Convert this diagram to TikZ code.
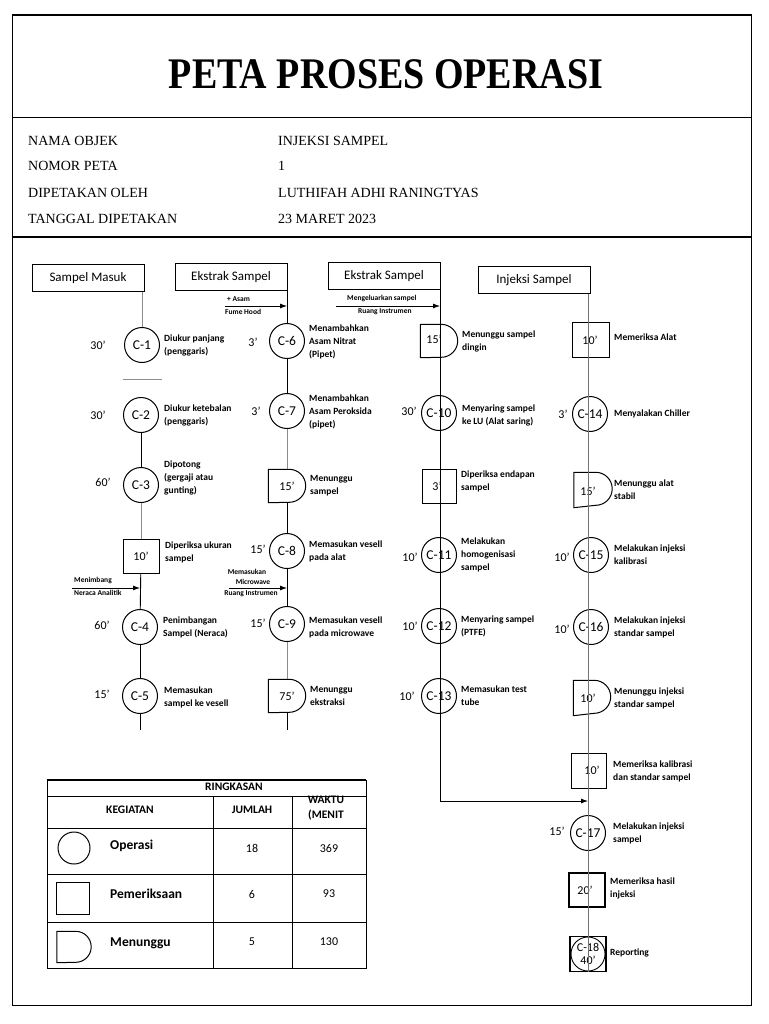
\documentclass[tikz,border=0pt]{standalone}
\usepackage{fontspec}
\setmainfont{Carlito}
\newfontfamily\tnr{Liberation Serif}
\usetikzlibrary{arrows.meta}
\newcommand\fsz[2]{\fontsize{#1}{#2}\selectfont}
\newcommand\dshape[1]{\draw[line width=1pt] (#1.north west) -- ([xshift=-16.5pt]#1.north east) arc[start angle=90,end angle=-90,radius=16.5pt] -- (#1.south west) -- cycle;}
\tikzset{
 hdr/.style={draw, line width=0.9pt, minimum width=112pt, minimum height=27pt, inner sep=0, font=\fsz{13}{15}},
 opn/.style={circle, draw, line width=1pt, minimum size=35pt, inner sep=0, font=\fsz{13.5}{15}},
 insp/.style={draw, line width=1pt, minimum width=36pt, minimum height=34pt, inner sep=0, font=\fsz{12}{14}},
 wt/.style={minimum width=37pt, minimum height=33pt, inner sep=0, font=\fsz{12}{14}},
 desc/.style={anchor=west, align=left, font=\bfseries\fsz{9.5}{13}, inner sep=0},
 tm/.style={font=\fsz{12}{14}, inner sep=0},
 tiny/.style={font=\bfseries\fsz{7.5}{8}, inner sep=0},
 conn/.style={draw=black, line width=0.9pt},
 gconn/.style={draw=black!45, line width=0.9pt},
 arr/.style={-{Latex[length=7pt,width=5pt]}, line width=0.8pt},
 info/.style={anchor=west, inner sep=0, font=\tnr\fsz{14}{16}},
 tcell/.style={inner sep=0, font=\fsz{12}{14}},
 thead/.style={inner sep=0, font=\bfseries\fsz{11.5}{15}, align=center},
 kcell/.style={anchor=west, inner sep=0, font=\bfseries\fsz{13.5}{15}},
}
\begin{document}
\begin{tikzpicture}[x=1pt,y=-1pt]
\useasboundingbox (0,0) rectangle (768,1024);
% frame
\draw[line width=1pt] (12,15) rectangle (751,1005);
\draw[line width=2pt] (12,15) -- (751,15);
\draw[line width=1pt] (12,118) -- (751,118);
\draw[line width=1.2pt] (12,237) -- (751,237);
\node[inner sep=0, font=\tnr\bfseries\fsz{38}{40}] (title) at (386,74) {\scalebox{1}[1.15]{PETA PROSES OPERASI}};
\node[info] (l1) at (28,141) {NAMA OBJEK};
\node[info] (l2) at (28,166) {NOMOR PETA};
\node[info] (l3) at (28,193) {DIPETAKAN OLEH};
\node[info] (l4) at (28,219) {TANGGAL DIPETAKAN};
\node[info] (v1) at (278,141) {INJEKSI SAMPEL};
\node[info] (v2) at (278,166) {1};
\node[info] (v3) at (278,193) {LUTHIFAH ADHI RANINGTYAS};
\node[info] (v4) at (278,219) {23 MARET 2023};

% headers
\node[hdr] (h1) at (88,278) {Sampel Masuk};
\node[hdr] (h2) at (231,277) {Ekstrak Sampel};
\node[hdr] (h3) at (384,276) {Ekstrak Sampel};
\node[hdr] (h4) at (534,280) {Injeksi Sampel};

% ---------- column 1
\node[opn] (c1) at (142,345) {C-1};
\node[tm] (t1) at (98,345) {30’};
\node[desc] (d1) at (164,345) {Diukur panjang\\(penggaris)};
\draw[black!45, line width=1pt] (123,379) -- (162,379);
\node[opn] (c2) at (141,415) {C-2};
\node[tm] (t2) at (98,415) {30’};
\node[desc] (d2) at (164,415) {Diukur ketebalan\\(penggaris)};
\node[opn] (c3) at (141,485) {C-3};
\node[tm] (t3) at (103,482) {60’};
\node[desc] (d3) at (164,478) {Dipotong\\(gergaji atau\\gunting)};
\node[insp] (s1) at (141,556) {10’};
\node[desc] (d4) at (165,552) {Diperiksa ukuran\\sampel};
\node[opn] (c4) at (140,627) {C-4};
\node[tm] (t4) at (102,625) {60’};
\node[desc] (d5) at (163,627) {Penimbangan\\Sampel (Neraca)};
\node[opn] (c5) at (140,696) {C-5};
\node[tm] (t5) at (102,694) {15’};
\node[desc] (d6) at (164,697) {Memasukan\\sampel ke vesell};
\coordinate (e1) at (140,730);
\draw[gconn] (c1 |- h1.south) -- (c1);
\draw[conn] (c2) -- (c3);
\draw[gconn] (c3) -- (s1);
\draw[conn] (s1) -- (c4);
\draw[conn] (c4) -- (c5);
\draw[conn] (c5) -- (e1);
\coordinate (a1) at (72,588);
\draw[arr] (a1) -- (a1 -| c4.north);
\node[tiny, anchor=west] (a1t) at (74,580) {Menimbang};
\node[tiny, anchor=west] (a1b) at (74,593) {Neraca Analitik};

% ---------- column 2
\node[opn] (c6) at (287,341) {C-6};
\node[tm] (t6) at (253,342) {3’};
\node[desc] (d7) at (309,342) {Menambahkan\\Asam Nitrat\\(Pipet)};
\node[opn] (c7) at (287,411) {C-7};
\node[tm] (t7) at (256,411) {3’};
\node[desc] (d8) at (309,412) {Menambahkan\\Asam Peroksida\\(pipet)};
\node[wt] (w1) at (287,486) {15’};
\dshape{w1}
\node[desc] (d9) at (310,486) {Menunggu\\sampel};
\node[opn] (c8) at (287,551) {C-8};
\node[tm] (t8) at (258,549) {15’};
\node[desc] (d10) at (309,551) {Memasukan vesell\\pada alat};
\node[opn] (c9) at (287,624) {C-9};
\node[tm] (t9) at (258,623) {15’};
\node[desc] (d11) at (309,627) {Memasukan vesell\\pada microwave};
\node[wt] (w2) at (287,696) {75’};
\dshape{w2}
\node[desc] (d12) at (310,696) {Menunggu\\ekstraksi};
\coordinate (e2) at (287,730);
\draw[conn] (c6 |- h2.south) -- (c6);
\draw[conn] (c6) -- (c7);
\draw[gconn] (c7) -- (c7 |- w1.north);
\draw[conn] (c8 |- w1.south) -- (c8);
\draw[conn] (c8) -- (c9);
\draw[gconn] (c9) -- (c9 |- w2.north);
\draw[conn] (e2 |- w2.south) -- (e2);
\coordinate (a2) at (225,306);
\draw[arr] (a2) -- (a2 -| c6.north);
\node[tiny, anchor=west] (a2t) at (227,299) {+ Asam};
\node[tiny, anchor=west] (a2b) at (225,312) {Fume Hood};
\coordinate (a3) at (229,588);
\draw[arr] (a3) -- (a3 -| c9.north);
\node[tiny] (a3t) at (247,572) {Memasukan};
\node[tiny] (a3m) at (253,582) {Microwave};
\node[tiny] (a3b) at (251,594) {Ruang Instrumen};

% ---------- column 3
\node[wt] (w3) at (439,341) {};
\dshape{w3}
\node[tm] (w3t) at (434,339) {15’};
\node[desc] (d13) at (462,341) {Menunggu sampel\\dingin};
\node[opn] (c10) at (439,413) {C-10};
\node[tm] (t10) at (409,411) {30’};
\node[desc] (d14) at (462,415) {Menyaring sampel\\ke LU (Alat saring)};
\node[insp, minimum width=34pt] (s2) at (439,486) {};
\node[tm] (s2t) at (437,486) {3’};
\node[desc] (d15) at (461,481) {Diperiksa endapan\\sampel};
\node[opn] (c11) at (439,555) {C-11};
\node[tm] (t11) at (410,557) {10’};
\node[desc] (d16) at (461,555) {Melakukan\\homogenisasi\\sampel};
\node[opn] (c12) at (439,626) {C-12};
\node[tm] (t12) at (410,626) {10’};
\node[desc] (d17) at (461,626) {Menyaring sampel\\(PTFE)};
\node[opn] (c13) at (439,696) {C-13};
\node[tm] (t13) at (407,696) {10’};
\node[desc] (d18) at (461,696) {Memasukan test\\tube};
\coordinate (a4) at (336,306);
\draw[arr] (a4) -- (440,306);
\node[tiny, anchor=west] (a4t) at (347,299) {Mengeluarkan sampel};
\node[tiny, anchor=west] (a4b) at (358,312) {Ruang Instrumen};

% ---------- column 4
\node[insp, minimum width=37pt, minimum height=35pt] (s3) at (591,340) {};
\node[tm] (s3t) at (590,340) {10’};
\node[desc] (d19) at (614,337) {Memeriksa Alat};
\node[opn] (c14) at (590,414) {C-14};
\node[tm] (t14) at (563,414) {3’};
\node[desc] (d20) at (614,414) {Menyalakan Chiller};
\node[wt, minimum width=38pt, minimum height=35pt] (w4) at (593,490) {};
\dshape{w4}
\node[tm] (w4t) at (588,491) {15’};
\node[desc] (d21) at (614,490) {Menunggu alat\\stabil};
\node[opn] (c15) at (591,555) {C-15};
\node[tm] (t15) at (562,557) {10’};
\node[desc] (d22) at (614,555) {Melakukan injeksi\\kalibrasi};
\node[opn] (c16) at (591,627) {C-16};
\node[tm] (t16) at (562,629) {10’};
\node[desc] (d23) at (614,627) {Melakukan injeksi\\standar sampel};
\node[wt, minimum height=35pt] (w5) at (592,698) {};
\dshape{w5}
\node[tm] (w5t) at (588,698) {10’};
\node[desc] (d24) at (614,698) {Menunggu injeksi\\standar sampel};
\node[insp, minimum width=35pt, minimum height=35pt] (s4) at (589,771) {};
\node[tm] (s4t) at (592,770) {10’};
\node[desc] (d25) at (613,771) {Memeriksa kalibrasi\\dan standar sampel};
\node[opn] (c17) at (588,833) {C-17};
\node[tm] (t17) at (557,831) {15’};
\node[desc] (d26) at (613,833) {Melakukan injeksi\\sampel};
\node[insp, line width=1.6pt] (s5) at (587,890) {};
\node[tm] (s5t) at (585,890) {20’};
\node[desc] (d27) at (610,888) {Memeriksa hasil\\injeksi};
\node[insp, line width=1.5pt, minimum height=35pt] (s6) at (588,954) {};
\node[circle, draw, line width=0.9pt, minimum size=34pt, inner sep=0] (c18) at (588,954) {};
\node[inner sep=0, align=center, font=\fsz{12}{13}] (c18t) at (588,954) {C-18\\40’};
\node[desc] (d28) at (610,953) {Reporting};

% column 3 and 4 through-lines
\coordinate (turn) at (440,801);
\draw[conn] (turn |- h3.south) -- (turn);
\draw[arr] (turn) -- (turn -| c17.north);
\draw[draw=black!55, line width=0.9pt] (s6.center |- h4.south) -- (s6.south);

% ---------- summary table
\draw[line width=1pt] (47,780) rectangle (366,968);
\draw[line width=1.6pt] (47,780) -- (366,780);
\draw[line width=1pt] (47,796) -- (366,796);
\draw[line width=1pt] (47,828) -- (366,828);
\draw[line width=1pt] (47,874) -- (366,874);
\draw[line width=1pt] (47,922) -- (366,922);
\draw[line width=1pt] (213,796) -- (213,968);
\draw[line width=1pt] (292,796) -- (292,968);
\node[thead] (rk) at (234,787) {RINGKASAN};
\node[thead] (kg) at (130,810) {KEGIATAN};
\node[thead] (jm) at (252,810) {JUMLAH};
\node[thead] (wk) at (326,808) {WAKTU\\(MENIT};
\node[circle, draw, line width=1pt, minimum size=32pt, inner sep=0] (ic1) at (74,848) {};
\node[draw, line width=1pt, minimum width=33pt, minimum height=32pt, inner sep=0] (ic2) at (73,898) {};
\node[minimum width=34pt, minimum height=31pt, inner sep=0] (ic3) at (74,947) {};
\draw[line width=1pt] (ic3.north west) -- ([xshift=-15.5pt]ic3.north east) arc[start angle=90,end angle=-90,radius=15.5pt] -- (ic3.south west) -- cycle;
\node[kcell] (k1) at (110,846) {Operasi};
\node[kcell] (k2) at (110,894) {Pemeriksaan};
\node[kcell] (k3) at (110,943) {Menunggu};
\node[tcell] (n1) at (252,848) {18};
\node[tcell] (n2) at (252,894) {6};
\node[tcell] (n3) at (252,942) {5};
\node[tcell] (m1) at (329,848) {369};
\node[tcell] (m2) at (329,894) {93};
\node[tcell] (m3) at (329,942) {130};
\end{tikzpicture}
\end{document}
